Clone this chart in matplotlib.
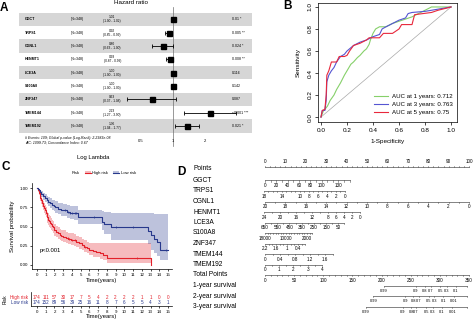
import numpy as np
import matplotlib
matplotlib.use("Agg")
import matplotlib.pyplot as plt
import matplotlib.transforms as mtrans
from matplotlib.lines import Line2D
from matplotlib.patches import Patch

plt.rcParams['font.family'] = ['Liberation Sans', 'DejaVu Sans']

# ---------------- data ----------------
# A: multivariate Cox model
genes = ["GGCT", "TRPS1", "CGNL1", "HENMT1", "LCE3A", "S100A8", "ZNF347", "TMEM144", "TMEM192"]
hr = [1.01, 0.92, 0.80, 0.93, 1.00, 1.00, 0.63, 2.23, 1.36]
hr_lo = [1.00, 0.85, 0.63, 0.87, 1.00, 1.00, 0.37, 1.27, 1.04]
hr_hi = [1.02, 0.99, 1.00, 0.99, 1.00, 1.00, 1.08, 3.90, 1.77]
pvals = ["0.01 *", "0.005 **", "0.024 *", "0.008 **", "0.116", "0.142", "0.087", "<0.001 ***", "0.021 *"]
n_pat = 348

# B: time-dependent ROC
fpr1 = [0, 0.01, 0.02, 0.03, 0.05, 0.07, 0.10, 0.12, 0.15, 0.18, 0.20, 0.23, 0.25, 0.28, 0.30, 0.33,
        0.35, 0.37, 0.38, 0.40, 0.42, 0.45, 0.50, 0.55, 0.60, 0.65, 0.70, 0.75, 0.80, 0.85, 0.90, 1.0]
tpr1 = [0, 0.03, 0.06, 0.07, 0.10, 0.15, 0.20, 0.25, 0.31, 0.38, 0.42, 0.48, 0.50, 0.54, 0.56, 0.60,
        0.62, 0.66, 0.70, 0.76, 0.80, 0.82, 0.82, 0.85, 0.87, 0.89, 0.91, 0.94, 0.97, 1.0, 1.0, 1.0]
fpr3 = [0, 0.01, 0.03, 0.04, 0.045, 0.06, 0.08, 0.10, 0.12, 0.15, 0.18, 0.20, 0.23, 0.25, 0.30, 0.35,
        0.40, 0.45, 0.47, 0.50, 0.55, 0.60, 0.65, 0.67, 0.70, 0.80, 0.90, 1.0]
tpr3 = [0, 0.06, 0.06, 0.15, 0.32, 0.38, 0.42, 0.45, 0.50, 0.55, 0.57, 0.60, 0.63, 0.65, 0.68, 0.70,
        0.73, 0.75, 0.80, 0.82, 0.85, 0.88, 0.90, 0.94, 0.95, 0.96, 0.98, 1.0]
fpr5 = [0, 0.01, 0.03, 0.04, 0.045, 0.06, 0.08, 0.12, 0.14, 0.18, 0.20, 0.22, 0.25, 0.30, 0.35, 0.37,
        0.45, 0.48, 0.55, 0.60, 0.62, 0.70, 0.72, 0.85, 0.90, 1.0]
tpr5 = [0, 0.06, 0.07, 0.20, 0.38, 0.42, 0.50, 0.50, 0.55, 0.55, 0.56, 0.60, 0.65, 0.67, 0.70, 0.72,
        0.72, 0.76, 0.76, 0.80, 0.84, 0.84, 0.93, 0.95, 0.97, 1.0]
auc = [0.712, 0.763, 0.75]

# C: Kaplan-Meier by risk group
high_t = [0, 0.1, 0.2, 0.3, 0.4, 0.5, 0.6, 0.7, 0.8, 0.9, 1.0, 1.1, 1.2, 1.3, 1.4, 1.5, 1.6, 1.7, 1.8, 1.9,
          2.0, 2.2, 2.4, 2.6, 2.8, 3.0, 3.3, 3.6, 3.9, 4.2, 4.5, 4.8, 5.1, 5.4, 5.7, 6.0, 6.4, 6.8, 7.2,
          7.6, 8.0, 13.0]
high_s = [1.0, 0.97, 0.94, 0.91, 0.87, 0.84, 0.80, 0.77, 0.74, 0.71, 0.68, 0.65, 0.62, 0.59, 0.57, 0.55,
          0.53, 0.51, 0.49, 0.47, 0.45, 0.43, 0.41, 0.39, 0.38, 0.37, 0.355, 0.34, 0.33, 0.32, 0.30, 0.28,
          0.26, 0.24, 0.22, 0.20, 0.18, 0.17, 0.15, 0.13, 0.09, 0.0]
high_lo = [1.0, 0.95, 0.91, 0.87, 0.83, 0.79, 0.75, 0.72, 0.68, 0.65, 0.62, 0.58, 0.55, 0.52, 0.50, 0.48,
           0.46, 0.44, 0.42, 0.40, 0.38, 0.36, 0.34, 0.32, 0.31, 0.30, 0.285, 0.27, 0.26, 0.25, 0.23, 0.21,
           0.19, 0.17, 0.15, 0.13, 0.11, 0.10, 0.08, 0.06, 0.03, 0.0]
high_hi = [1.0, 0.99, 0.97, 0.95, 0.92, 0.89, 0.86, 0.83, 0.80, 0.78, 0.75, 0.72, 0.69, 0.67, 0.65, 0.63,
           0.61, 0.59, 0.57, 0.55, 0.53, 0.51, 0.49, 0.47, 0.46, 0.45, 0.43, 0.42, 0.41, 0.40, 0.38, 0.36,
           0.34, 0.32, 0.30, 0.29, 0.29, 0.28, 0.28, 0.28, 0.28, 0.28]
low_t = [0, 0.1, 0.2, 0.3, 0.5, 0.7, 0.9, 1.1, 1.3, 1.5, 1.7, 1.9, 2.1, 2.4, 2.7, 3.0, 3.4, 3.8, 4.2, 4.7,
         7.4, 7.7, 8.5, 12.7, 13.0, 13.4, 13.7, 14.1, 15.0]
low_s = [1.0, 0.99, 0.97, 0.95, 0.92, 0.89, 0.87, 0.84, 0.82, 0.80, 0.78, 0.77, 0.75, 0.73, 0.72, 0.71,
         0.69, 0.68, 0.67, 0.62, 0.56, 0.53, 0.49, 0.44, 0.39, 0.34, 0.30, 0.20, 0.20]
low_lo = [1.0, 0.97, 0.95, 0.92, 0.88, 0.85, 0.82, 0.79, 0.76, 0.74, 0.72, 0.70, 0.68, 0.66, 0.64, 0.63,
          0.61, 0.60, 0.58, 0.53, 0.45, 0.40, 0.32, 0.27, 0.20, 0.15, 0.12, 0.06, 0.06]
low_hi = [1.0, 1.0, 0.99, 0.98, 0.96, 0.94, 0.92, 0.90, 0.88, 0.87, 0.85, 0.84, 0.83, 0.81, 0.80, 0.79,
          0.78, 0.77, 0.76, 0.72, 0.70, 0.69, 0.68, 0.68, 0.67, 0.66, 0.66, 0.66, 0.66]
high_cens = [3.5, 3.7, 4.0, 4.4, 5.5, 11.5]
low_cens = [3.2, 3.5, 3.8, 4.0, 4.3, 4.5, 6.5, 9.0, 11.0, 14.8]
risk_times = list(range(16))
high_risk_n = [174, 111, 57, 30, 17, 7, 5, 4, 2, 2, 2, 2, 1, 1, 0, 0]
low_risk_n = [174, 152, 89, 56, 39, 25, 16, 11, 8, 7, 6, 5, 5, 4, 3, 1]

# D: nomogram scales (value -> points = zero + coef * value)
nomo_vars = genes
nomo_labels = [[0, 20, 40, 60, 80, 100, 130],
               [18, 14, 10, 8, 6, 4, 2, 0],
               [20, 18, 16, 14, 12, 10, 8, 6, 4, 2, 0],
               [24, 20, 16, 12, 8, 6, 4, 2, 0],
               [650, 550, 450, 350, 250, 150, 50],
               [18000, 10000, 2000],
               [2.2, 1.6, 1, 0.4],
               [0, 0.4, 0.8, 1.2, 1.6],
               [0, 1, 2, 3, 4]]
nomo_coef = [0.277, -2.206, -5.0, -1.96, -0.0598, -0.001287, -8.97, 18.4, 6.96]
nomo_zero = [0, 39.2, 100, 46.6, 38.9, 23.2, 19.7, 0, 0]
nomo_max = [150, 18, 20, 24, 650, 18000, 2.2, 1.8, 4.4]
nomo_step = [10, 1, 1, 2, 50, 1000, 0.2, 0.2, 0.5]
surv_names = ["1-year survival", "2-year survival", "3-year survival"]
surv_labels = [["0.99", "0.9", "0.8", "0.7", "0.5", "0.3", "0.1"],
               ["0.99", "0.9", "0.8", "0.7", "0.5", "0.3", "0.1", "0.01"],
               ["0.99", "0.9", "0.8", "0.7", "0.5", "0.3", "0.1", "0.01"]]
surv_total_pts = [[204, 259, 274, 284, 301, 312, 327],
                  [186, 240.6, 254.7, 263.6, 281.3, 290.7, 305.8, 324],
                  [173, 236.7, 251, 259, 276.7, 287.6, 303, 321.6]]

# ---------------- figure ----------------
W, H = 474, 323
fig = plt.figure(figsize=(W / 100, H / 100), dpi=100)


def box(x0, y0, x1, y1):
    # pixel rectangle, origin top-left -> figure fraction
    return [x0 / W, 1 - y1 / H, (x1 - x0) / W, (y1 - y0) / H]


def panel_label(x, y, s):
    fig.text(x / W, 1 - y / H, s, fontsize=8.5, fontweight='bold', ha='left', va='center')


# ---- A: forest plot
axA = fig.add_axes(box(19, 12.7, 252, 132.7))
axA.set_xscale('log', base=2)
axA.set_xlim(0.0357, 5.54)
axA.set_ylim(8.5, -0.5)
for i in range(len(genes)):
    if i % 2 == 0:
        axA.axhspan(i - 0.5, i + 0.5, color='#d6d6d6', lw=0, zorder=0)
axA.plot([1, 1], [-0.95, 9.5], color='#707070', lw=0.5, clip_on=False, zorder=1)
hr_a, lo_a, hi_a = np.array(hr), np.array(hr_lo), np.array(hr_hi)
axA.errorbar(hr_a, range(len(genes)), xerr=[hr_a - lo_a, hi_a - hr_a], fmt='s', color='black',
             ms=3.6, elinewidth=0.6, capsize=1.2, capthick=0.6, zorder=3)
tr = mtrans.blended_transform_factory(axA.transAxes, axA.transData)
for i, g in enumerate(genes):
    axA.text(0.026, i, g, transform=tr, fontsize=2.6, fontweight='bold', va='center', ha='left')
    axA.text(0.223, i, f"(N={n_pat})", transform=tr, fontsize=2.6, va='center', ha='left')
    axA.text(0.40, i, f"{hr[i]:.2f}\n({hr_lo[i]:.2f} - {hr_hi[i]:.2f})", transform=tr,
             fontsize=2.3, va='center', ha='center', linespacing=1.0)
    axA.text(0.915, i, pvals[i], transform=tr, fontsize=2.6, va='center', ha='left')
axA.text(0.026, -0.03, "# Events: 109; Global p-value (Log-Rank): 2.2383e-08\n"
         "AIC: 1099.73; Concordance Index: 0.67", transform=axA.transAxes,
         fontsize=2.5, style='italic', va='top', ha='left', linespacing=1.2)
axA.set_xticks([0.5, 1, 2])
axA.set_xticklabels(["0.5", "1", "2"], fontsize=3)
axA.xaxis.set_minor_locator(matplotlib.ticker.NullLocator())
axA.tick_params(axis='x', length=0, pad=4.5)
axA.set_yticks([])
for s in axA.spines.values():
    s.set_visible(False)
fig.text(131 / W, 1 - 2.2 / H, "Hazard ratio", fontsize=4.5, ha='center', va='center')
fig.text(93 / W, 1 - 157 / H, "Log Lambda", fontsize=4.2, ha='center', va='center')
panel_label(0, 8, "A")

# ---- B: ROC curves
axB = fig.add_axes(box(318, 3, 457, 122))
axB.set_xlim(-0.023, 1.046)
axB.set_ylim(-0.045, 1.036)
axB.plot([0, 1], [0, 1], color='#a8a8a8', lw=0.5)
roc_cols = ['#86d06a', '#5555d2', '#e8283c']
for fp, tp, c, yr, a in zip([fpr1, fpr3, fpr5], [tpr1, tpr3, tpr5], roc_cols, [1, 3, 5], auc):
    axB.plot(fp, tp, color=c, lw=0.8, label=f"AUC at {yr} years: {a}")
axB.legend(loc='lower right', bbox_to_anchor=(1.0, 0.02), frameon=False, fontsize=4.4,
           handlelength=2.3, handletextpad=0.6, labelspacing=0.45, borderaxespad=0.3)
ticks = [0, 0.2, 0.4, 0.6, 0.8, 1.0]
axB.set_xticks(ticks)
axB.set_xticklabels([f"{t:.1f}" for t in ticks], fontsize=4.6)
axB.set_yticks(ticks)
axB.set_yticklabels([f"{t:.1f}" for t in ticks], fontsize=4.6, rotation=90, va='center')
axB.tick_params(length=2, width=0.5, pad=2)
for s in axB.spines.values():
    s.set_linewidth(0.5)
axB.set_xlabel("1-Specificity", fontsize=4.6, labelpad=5)
axB.set_ylabel("Sensitivity", fontsize=4.6, labelpad=5)
panel_label(283, 6, "B")

# ---- C: Kaplan-Meier curves
red, blue = '#e3202a', '#27388c'
axC = fig.add_axes(box(32, 183, 172, 269))
axC.set_xlim(-0.573, 15.458)
axC.set_ylim(-0.052, 1.065)
for t, s, lo, hi, c in [(high_t, high_s, high_lo, high_hi, red), (low_t, low_s, low_lo, low_hi, blue)]:
    axC.fill_between(t, lo, hi, step='post', color=c, alpha=0.3, lw=0)
    axC.step(t, s, where='post', color=c, lw=0.8)
for cens, t, s, c in [(high_cens, high_t, high_s, red), (low_cens, low_t, low_s, blue)]:
    idx = np.searchsorted(t, cens, side='right') - 1
    axC.plot(cens, np.array(s)[idx], '+', color=c, ms=2, mew=0.5)
axC.text(0.35, 0.19, "p<0.001", fontsize=4.2, va='center', ha='left')
axC.set_xticks(range(16))
axC.set_xticklabels([str(i) for i in range(16)], fontsize=3.2)
axC.set_yticks([0, 0.25, 0.5, 0.75, 1.0])
axC.set_yticklabels(["0.00", "0.25", "0.50", "0.75", "1.00"], fontsize=3.2)
axC.tick_params(length=1.5, width=0.5, pad=1.5)
axC.spines['top'].set_visible(False)
axC.spines['right'].set_visible(False)
for s in ['left', 'bottom']:
    axC.spines[s].set_linewidth(0.5)
axC.set_xlabel("Time(years)", fontsize=4.2, labelpad=0.5)
axC.set_ylabel("Survival probability", fontsize=4.4, labelpad=3)
handles = [(Patch(color=red, alpha=0.3, lw=0), Line2D([], [], color=red, lw=0.8)),
           (Patch(color=blue, alpha=0.3, lw=0), Line2D([], [], color=blue, lw=0.8))]
fig.legend(handles, ["High risk", "Low risk"], loc='center left', bbox_to_anchor=(83 / W, 1 - 173 / H),
           ncol=2, frameon=False, fontsize=3, handlelength=1.4, handleheight=0.9,
           handletextpad=0.4, columnspacing=1.2, borderaxespad=0)
fig.text(72 / W, 1 - 173 / H, "Risk", fontsize=3, ha='left', va='center')
panel_label(1, 167, "C")

# risk table
axT = fig.add_axes(box(31, 292, 172, 305.5))
axT.set_xlim(-0.573 - 1 / 8.73, 15.458)
axT.set_ylim(-0.6, 2.1)
for n_hi, n_lo, t in zip(high_risk_n, low_risk_n, risk_times):
    axT.text(t, 1, str(n_hi), fontsize=3.3, ha='center', va='center', color=red)
    axT.text(t, 0, str(n_lo), fontsize=3.3, ha='center', va='center', color=blue)
axT.set_xticks(risk_times)
axT.set_xticklabels([str(i) for i in risk_times], fontsize=3.2)
axT.set_yticks([1, 0])
axT.set_yticklabels(["High risk", "Low risk"], fontsize=3.3)
for lab, c in zip(axT.get_yticklabels(), [red, blue]):
    lab.set_color(c)
axT.tick_params(length=1.5, width=0.5, pad=1.5)
axT.tick_params(axis='y', length=0, pad=2)
axT.spines['top'].set_visible(False)
axT.spines['right'].set_visible(False)
for s in ['left', 'bottom']:
    axT.spines[s].set_linewidth(0.5)
axT.set_xlabel("Time(years)", fontsize=4.2, labelpad=0.5)
fig.text(5 / W, 1 - 299 / H, "Risk", fontsize=3.5, rotation=90, ha='center', va='center')

# ---- D: nomogram
axD = fig.add_axes(box(175, 160, 474, 323))
axD.set_xlim((175 - 265) / 2.04, (474 - 265) / 2.04)
axD.set_ylim(323, 160)
axD.axis('off')
lc = '#505050'
tick_h = 1.4
row_y = [167, 180.5, 191, 201.5, 212, 222.5, 233, 243.5, 254, 264.5, 275, 285.5, 296, 306.5]
row_names = ["Points"] + nomo_vars + ["Total Points"] + surv_names
lab_x = (193 - 265) / 2.04
for name, y in zip(row_names, row_y):
    axD.text(lab_x, y + (2 if name == "Points" else 0), name, fontsize=4.8, ha='left', va='center')


def scale_row(y, tick_pts, label_pts, labels, above=False, fs=3.3):
    d = -1 if above else 1
    axD.plot([min(tick_pts), max(tick_pts)], [y, y], color=lc, lw=0.5)
    for p in tick_pts:
        axD.plot([p, p], [y, y + d * tick_h], color=lc, lw=0.4)
    for p, s in zip(label_pts, labels):
        axD.text(p, y + d * 5.2, s, fontsize=fs, ha='center', va='center')


pts_ticks = np.arange(0, 101, 2.5)
scale_row(row_y[0], pts_ticks, list(range(0, 101, 10)), [str(v) for v in range(0, 101, 10)], above=True)
for k in range(len(nomo_vars)):
    vals = np.arange(0, nomo_max[k] + 1e-9, nomo_step[k])
    tk = nomo_zero[k] + nomo_coef[k] * vals
    lp = [nomo_zero[k] + nomo_coef[k] * v for v in nomo_labels[k]]
    scale_row(row_y[k + 1], tk, lp, [f"{v:g}" for v in nomo_labels[k]])
tot = np.arange(0, 351, 10)
scale_row(row_y[10], tot * 100 / 350, np.arange(0, 351, 50) * 100 / 350,
          [str(v) for v in range(0, 351, 50)])
for k in range(3):
    sp = np.array(surv_total_pts[k]) * 100 / 350
    scale_row(row_y[11 + k], np.append(sp, 347 * 100 / 350), sp, surv_labels[k], fs=2.9)
panel_label(177, 172, "D")

fig.savefig("out.png", dpi=100)
